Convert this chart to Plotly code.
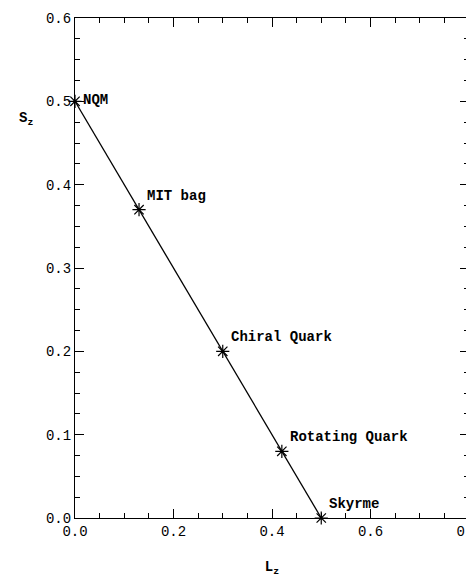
import plotly.graph_objects as go

# models and their (L_z, S_z) values
models = ["NQM", "MIT bag", "Chiral Quark", "Rotating Quark", "Skyrme"]
lz = [0.0, 0.13, 0.30, 0.42, 0.50]
sz = [0.50, 0.37, 0.20, 0.08, 0.00]

font = dict(family="Liberation Mono, DejaVu Sans Mono", size=14, color="black")

fig = go.Figure()
fig.add_trace(go.Scatter(x=lz, y=sz, mode="lines+markers",
                         line=dict(color="black", width=1.3),
                         marker=dict(symbol="asterisk-open", size=11,
                                     line=dict(color="black", width=1.2)),
                         cliponaxis=False, showlegend=False))
for m, x, y in zip(models, lz, sz):
    fig.add_annotation(x=x, y=y, text="<b>" + m + "</b>", showarrow=False,
                       xanchor="left", yanchor="bottom", xshift=6,
                       yshift=-9 if m == "NQM" else 4, font=font)

# horizontal y-axis title, as in the reference
fig.add_annotation(xref="paper", yref="paper", x=-0.148, y=0.82, text="<b>S<sub>z</sub></b>",
                   showarrow=False, xanchor="left", font=font)

axis = dict(showgrid=False, zeroline=False, showline=True, linecolor="black",
            mirror="allticks", ticks="inside", ticklen=9, tickcolor="black",
            tickfont=font, automargin=False,
            minor=dict(ticks="inside", ticklen=5, tickcolor="black"))
fig.update_xaxes(axis, range=[0, 0.8], dtick=0.2, tickformat=".1f",
                 minor_dtick=0.05,
                 title=dict(text="<b>L<sub>z</sub></b>", font=font, standoff=22))
fig.update_yaxes(axis, range=[0, 0.6], dtick=0.1, tickformat=".1f",
                 minor_dtick=0.025)
fig.update_layout(width=474, height=579, plot_bgcolor="white", paper_bgcolor="white",
                  margin=dict(l=67, r=13, t=10, b=69), font=font)
fig.write_html("out.html")
